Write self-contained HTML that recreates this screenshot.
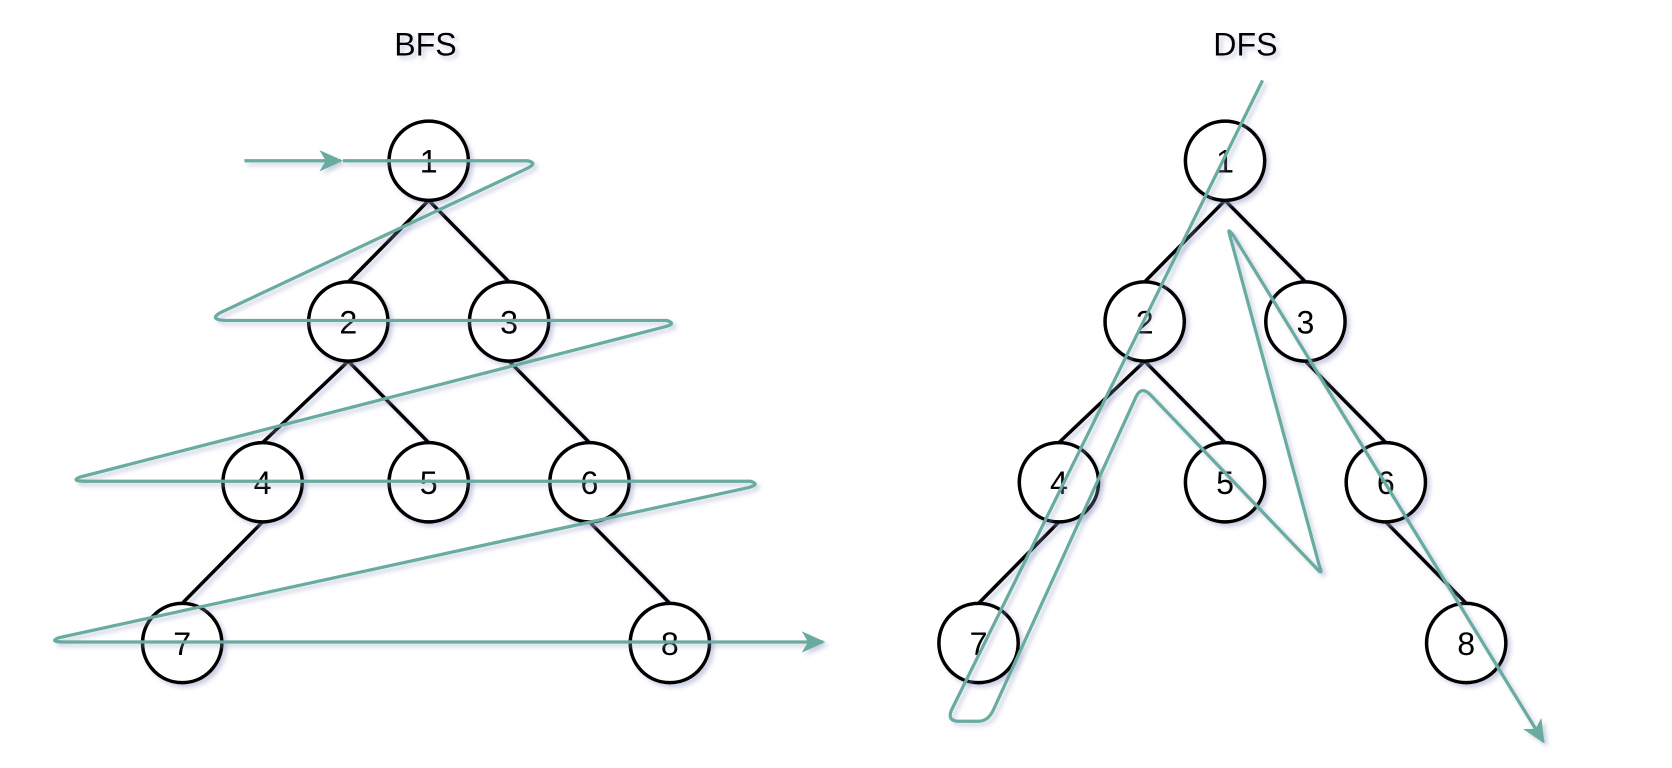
<!DOCTYPE html>
<html><head><meta charset="utf-8"><style>
html,body{margin:0;padding:0;background:#fff;width:1672px;height:768px;overflow:hidden}
svg{display:block}
text{font-family:"Comic Sans MS","Liberation Sans",sans-serif}
</style></head><body>
<svg width="1672" height="768" viewBox="0 0 1560 716.6" preserveAspectRatio="none" xmlns="http://www.w3.org/2000/svg">
<defs>
<filter id="sh" x="-20%" y="-20%" width="150%" height="150%"><feDropShadow dx="3" dy="3" stdDeviation="2" flood-color="#9aa0c8" flood-opacity="0.5"/></filter>
<marker id="ar2" markerWidth="22" markerHeight="20" refX="20" refY="10" orient="auto" markerUnits="userSpaceOnUse" viewBox="0 0 22 20"><path d="M0,0 L22,10 L0,20 L6,10 Z" fill="#67ab9f"/></marker>
</defs>
<text x="397" y="52" font-size="30" text-anchor="middle" fill="#000" filter="url(#sh)">BFS</text>
<text x="1162" y="52" font-size="30" text-anchor="middle" fill="#000" filter="url(#sh)">DFS</text>
<g stroke="#000" stroke-width="3.3" fill="none" filter="url(#sh)">
<line x1="400" y1="187" x2="325" y2="263"/><line x1="400" y1="187" x2="475" y2="263"/>
<line x1="325" y1="337" x2="245" y2="413"/><line x1="325" y1="337" x2="400" y2="413"/>
<line x1="475" y1="337" x2="550" y2="413"/>
<line x1="245" y1="487" x2="170" y2="563"/><line x1="550" y1="487" x2="625" y2="563"/>
</g>
<g transform="translate(-5,0)">
<g stroke="#000" stroke-width="3.3" fill="none" filter="url(#sh)">
<line x1="1148" y1="187" x2="1073" y2="263"/><line x1="1148" y1="187" x2="1223" y2="263"/>
<line x1="1073" y1="337" x2="993" y2="413"/><line x1="1073" y1="337" x2="1148" y2="413"/>
<line x1="1223" y1="337" x2="1298" y2="413"/>
<line x1="993" y1="487" x2="918" y2="563"/><line x1="1298" y1="487" x2="1373" y2="563"/>
</g>
<g stroke="#000" stroke-width="3.3" fill="#fff" filter="url(#sh)">
<circle cx="1148" cy="150" r="37"/><circle cx="1073" cy="300" r="37"/><circle cx="1223" cy="300" r="37"/>
<circle cx="993" cy="450" r="37"/><circle cx="1148" cy="450" r="37"/><circle cx="1298" cy="450" r="37"/>
<circle cx="918" cy="600" r="37"/><circle cx="1373" cy="600" r="37"/>
</g>
<g font-size="30" text-anchor="middle" fill="#000">
<text x="1148" y="161">1</text><text x="1073" y="311">2</text><text x="1223" y="311">3</text>
<text x="993" y="461">4</text><text x="1148" y="461">5</text><text x="1298" y="461">6</text>
<text x="918" y="611">7</text><text x="1373" y="611">8</text>
</g>
<g stroke="#67ab9f" stroke-width="3" fill="none" stroke-linejoin="round" filter="url(#sh)">
<path d="M1183,75 L893,662 Q888,673 900,673 L918,673 Q927,673 932,662 L1065,370 Q1070,360 1078,368 L1233,530 Q1240,538 1236,528 L1152,218 Q1150,212 1156,220 L1445,692" marker-end="url(#ar2)"/>
</g>
</g>
<g stroke="#000" stroke-width="3.3" fill="#fff" filter="url(#sh)">
<circle cx="400" cy="150" r="37"/><circle cx="325" cy="300" r="37"/><circle cx="475" cy="300" r="37"/>
<circle cx="245" cy="450" r="37"/><circle cx="400" cy="450" r="37"/><circle cx="550" cy="450" r="37"/>
<circle cx="170" cy="600" r="37"/><circle cx="625" cy="600" r="37"/>
</g>
<g font-size="30" text-anchor="middle" fill="#000">
<text x="400" y="161">1</text><text x="325" y="311">2</text><text x="475" y="311">3</text>
<text x="245" y="461">4</text><text x="400" y="461">5</text><text x="550" y="461">6</text>
<text x="170" y="611">7</text><text x="625" y="611">8</text>
</g>
<g stroke="#67ab9f" stroke-width="3" fill="none" stroke-linejoin="round" filter="url(#sh)">
<line x1="228" y1="150" x2="318" y2="150" marker-end="url(#ar2)"/>
<path d="M320,150 L492,150 Q503,152 490,158 L205,292 Q195,298 210,299 L622,299 Q632,302 620,305 L75,445 Q65,449 80,449 L700,449 Q710,452 698,455 L55,595 Q45,599 60,599 L768,599" marker-end="url(#ar2)"/>
</g>
</svg>
</body></html>
